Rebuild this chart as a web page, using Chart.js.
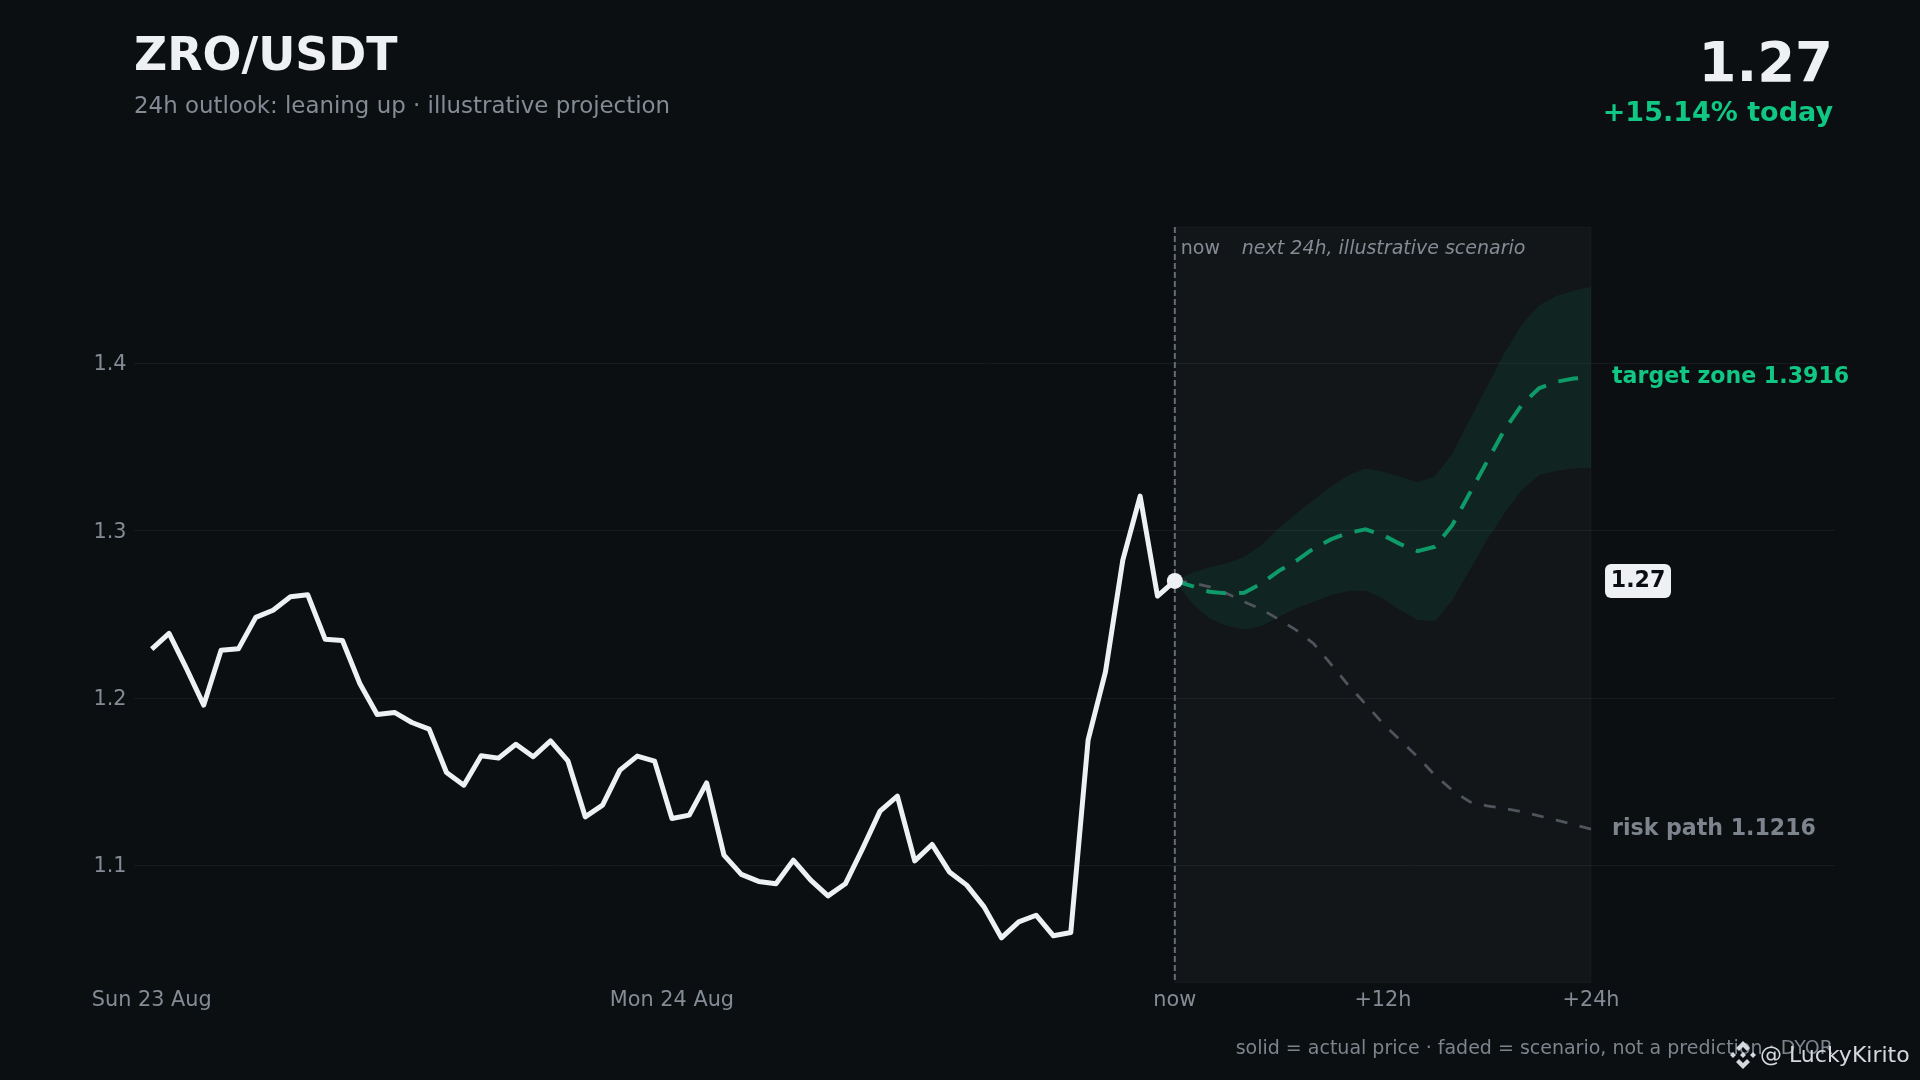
<!DOCTYPE html>
<html>
<head>
<meta charset="utf-8">
<title>ZRO/USDT</title>
<script src="https://cdn.jsdelivr.net/npm/chart.js@4"></script>
<style>
  html, body { margin: 0; width: 1920px; height: 1080px; background: #0b0f12; overflow: hidden; }
  body { position: relative; font-family: "DejaVu Sans", sans-serif; }
  #chart { position: absolute; left: 0; top: 0; }
  .txt { position: absolute; white-space: nowrap; line-height: 1; }
  #title { left: 134px; top: 32px; font-size: 45.8px; font-weight: bold; color: #eef0f3; }
  #sub { left: 134px; top: 94px; font-size: 22.9px; color: #848b95; }
  #price { right: 87px; top: 35px; font-size: 54.5px; font-weight: bold; color: #eef0f3; }
  #change { right: 87px; top: 98px; font-size: 27px; font-weight: bold; color: #10c784; }
  #foot { right: 87px; top: 1038px; font-size: 19px; color: #7d848e; }
  #mark { left: 1760px; top: 1044px; font-size: 22px; color: #d5d8dc; }
  #logo { position: absolute; left: 1729px; top: 1040px; }
</style>
</head>
<body>
<canvas id="chart" width="1920" height="1080"></canvas>
<div class="txt" id="title">ZRO/USDT</div>
<div class="txt" id="sub">24h outlook: leaning up · illustrative projection</div>
<div class="txt" id="price">1.27</div>
<div class="txt" id="change">+15.14% today</div>
<div class="txt" id="foot">solid = actual price · faded = scenario, not a prediction · DYOR</div>
<svg id="logo" width="28" height="30" viewBox="-14 -15 28 30">
  <g fill="#d5d8dc">
    <path d="M0 -14 L7 -7 L4 -4 L0 -8 L-4 -4 L-7 -7 Z"/>
    <path d="M0 14 L7 7 L4 4 L0 8 L-4 4 L-7 7 Z"/>
    <path d="M0 -3 L3 0 L0 3 L-3 0 Z"/>
    <path d="M-10 -3 L-7 0 L-10 3 L-13 0 Z"/>
    <path d="M10 -3 L13 0 L10 3 L7 0 Z"/>
  </g>
</svg>
<div class="txt" id="mark">@ LuckyKirito</div>

<script>
// actual price, one value per step, last one is "now"
var historyPrice = [
  1.2292, 1.2386, 1.2177, 1.1958, 1.2286, 1.2294, 1.2482, 1.2525, 1.2605, 1.2617,
  1.2352, 1.2344, 1.2087, 1.1902, 1.1914, 1.1854, 1.1814, 1.1555, 1.1479, 1.1655,
  1.1641, 1.1724, 1.1649, 1.1744, 1.1625, 1.1290, 1.1360, 1.1569, 1.1653, 1.1623,
  1.1280, 1.1300, 1.1493, 1.1061, 1.0946, 1.0904, 1.0890, 1.1031, 1.0912, 1.0818,
  1.0890, 1.1101, 1.1324, 1.1414, 1.1027, 1.1125, 1.0961, 1.0882, 1.0752, 1.0567,
  1.0662, 1.0702, 1.0579, 1.0599, 1.1750, 1.2157, 1.2824, 1.3207, 1.2609, 1.2700
];

// scenario paths, hourly from "now" to +24h
var targetPath = [
  1.2700, 1.2669, 1.2635, 1.2625, 1.2629, 1.2685, 1.2760, 1.2820, 1.2894, 1.2948,
  1.2987, 1.3008, 1.2974, 1.2920, 1.2878, 1.2904, 1.3033, 1.3223, 1.3412, 1.3601,
  1.3751, 1.3851, 1.3890, 1.3910, 1.3916
];
var bandUpper = [
  1.2700, 1.2748, 1.2781, 1.2805, 1.2844, 1.2914, 1.3014, 1.3103, 1.3183, 1.3262,
  1.3332, 1.3372, 1.3352, 1.3322, 1.3289, 1.3326, 1.3462, 1.3661, 1.3860, 1.4060,
  1.4229, 1.4348, 1.4402, 1.4434, 1.4458
];
var bandLower = [
  1.2700, 1.2565, 1.2476, 1.2430, 1.2410, 1.2430, 1.2485, 1.2536, 1.2575, 1.2615,
  1.2639, 1.2641, 1.2595, 1.2525, 1.2466, 1.2461, 1.2585, 1.2764, 1.2944, 1.3103,
  1.3243, 1.3332, 1.3358, 1.3372, 1.3376
];
var riskPath = [
  1.2700, 1.2689, 1.2665, 1.2625, 1.2575, 1.2530, 1.2470, 1.2406, 1.2326, 1.2203,
  1.2077, 1.1964, 1.1848, 1.1748, 1.1649, 1.1539, 1.1449, 1.1380, 1.1356, 1.1340,
  1.1320, 1.1296, 1.1270, 1.1244, 1.1216
];

var xTickSteps = [0, 30, 59, 71, 83];
var xTickLabels = ["Sun 23 Aug", "Mon 24 Aug", "now", "+12h", "+24h"];
var yTicks = [1.1, 1.2, 1.3, 1.4];

var nowStep = historyPrice.length - 1;
var endStep = nowStep + targetPath.length - 1;

function historyPoints(values) {
  return values.map(function(v, i) { return { x: i, y: v }; });
}
function scenarioPoints(values) {
  return values.map(function(v, i) { return { x: nowStep + i, y: v }; });
}

var scenarioZone = {
  id: "scenarioZone",
  beforeDatasetsDraw: function(chart) {
    var c = chart.ctx, a = chart.chartArea;
    var x0 = chart.scales.x.getPixelForValue(nowStep);
    var x1 = chart.scales.x.getPixelForValue(endStep);
    c.save();
    c.fillStyle = "rgba(255,255,255,0.032)";
    c.fillRect(x0, a.top, x1 - x0, a.bottom - a.top);
    c.strokeStyle = "rgba(255,255,255,0.035)";
    c.lineWidth = 1;
    c.strokeRect(x0, a.top, x1 - x0, a.bottom - a.top);
    c.strokeStyle = "#666c76";
    c.lineWidth = 2;
    c.setLineDash([6, 3]);
    c.beginPath();
    c.moveTo(x0, a.top);
    c.lineTo(x0, a.bottom);
    c.stroke();
    c.restore();
  },
  afterDatasetsDraw: function(chart) {
    var c = chart.ctx, a = chart.chartArea;
    var xs = chart.scales.x, ys = chart.scales.y;
    var x0 = xs.getPixelForValue(nowStep);
    var x1 = xs.getPixelForValue(endStep);
    c.save();
    c.textBaseline = "middle";
    c.font = "19px 'DejaVu Sans'";
    c.fillStyle = "#848b95";
    c.fillText("now", x0 + 6, a.top + 22);
    c.font = "italic 19px 'DejaVu Sans'";
    c.fillText("next 24h, illustrative scenario", x0 + 67, a.top + 22);

    c.font = "bold 22.1px 'DejaVu Sans'";
    c.fillStyle = "#10c784";
    c.fillText("target zone " + targetPath[targetPath.length - 1].toFixed(4), x1 + 21, ys.getPixelForValue(targetPath[targetPath.length - 1]));
    c.fillStyle = "#7d848e";
    c.fillText("risk path " + riskPath[riskPath.length - 1].toFixed(4), x1 + 21, ys.getPixelForValue(riskPath[riskPath.length - 1]));

    var yNow = ys.getPixelForValue(historyPrice[nowStep]);
    c.fillStyle = "#eef0f3";
    c.beginPath();
    c.roundRect(x1 + 14, yNow - 17, 66, 34, 6);
    c.fill();
    c.fillStyle = "#0a0e12";
    c.textAlign = "center";
    c.fillText(historyPrice[nowStep].toFixed(2), x1 + 47, yNow);
    c.restore();
  }
};

var chart = new Chart(document.getElementById("chart"), {
  type: "line",
  data: {
    datasets: [
      {
        label: "band",
        data: scenarioPoints(bandLower),
        borderWidth: 0,
        pointRadius: 0,
        fill: false,
        order: 5
      },
      {
        label: "band upper",
        data: scenarioPoints(bandUpper),
        borderWidth: 0,
        pointRadius: 0,
        backgroundColor: "rgba(0,200,130,0.08)",
        fill: "-1",
        order: 4
      },
      {
        label: "risk path",
        data: scenarioPoints(riskPath),
        borderColor: "#50555d",
        borderWidth: 2.8,
        borderDash: [12, 12.5],
        pointRadius: 0,
        order: 3
      },
      {
        label: "target path",
        data: scenarioPoints(targetPath),
        borderColor: "#0e9a69",
        borderWidth: 4,
        borderDash: [20, 13],
        pointRadius: 0,
        order: 2
      },
      {
        label: "price",
        data: historyPoints(historyPrice),
        borderColor: "#eef0f3",
        borderWidth: 5,
        borderJoinStyle: "round",
        pointRadius: 0,
        order: 1
      },
      {
        label: "now",
        data: [{ x: nowStep, y: historyPrice[nowStep] }],
        pointRadius: 8,
        pointBackgroundColor: "#eef0f3",
        pointBorderWidth: 0,
        showLine: false,
        order: 0
      }
    ]
  },
  options: {
    responsive: false,
    animation: false,
    devicePixelRatio: 1,
    layout: { padding: { top: 227, right: 85, left: 0, bottom: 0 } },
    plugins: { legend: { display: false }, tooltip: { enabled: false } },
    scales: {
      x: {
        type: "linear",
        min: -1.05,
        max: 97.07,
        grid: { display: false },
        border: { display: false },
        afterBuildTicks: function(s) {
          s.ticks = xTickSteps.map(function(v) { return { value: v }; });
        },
        afterFit: function(s) { s.height = 97.5; },
        ticks: {
          autoSkip: false,
          maxRotation: 0,
          padding: -2,
          color: "#848b95",
          font: { family: "DejaVu Sans", size: 20.8 },
          callback: function(v) { return xTickLabels[xTickSteps.indexOf(v)]; }
        }
      },
      y: {
        min: 1.03,
        max: 1.4815,
        grid: { color: "#171b1f", lineWidth: 1, drawTicks: false },
        border: { display: false },
        afterBuildTicks: function(s) {
          s.ticks = yTicks.map(function(v) { return { value: v }; });
        },
        afterFit: function(s) { s.width = 133.5; },
        ticks: {
          padding: 7,
          color: "#848b95",
          // small line height + empty first line nudges the label down 1.5px
          font: { family: "DejaVu Sans", size: 20.8, lineHeight: 0.15 },
          callback: function(v) { return ["", v.toFixed(1)]; }
        }
      }
    }
  },
  plugins: [scenarioZone]
});
</script>
</body>
</html>
